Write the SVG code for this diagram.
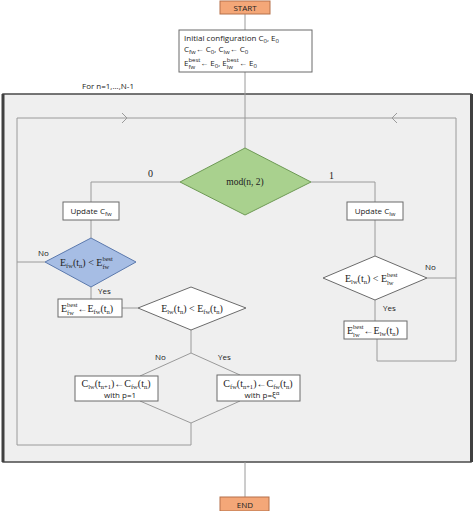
<svg xmlns="http://www.w3.org/2000/svg" width="474" height="511" viewBox="0 0 474 511">
<style>
.ln{fill:none;stroke:#9a9a9a;stroke-width:1}
.box{fill:#fff;stroke:#6b6b6b;stroke-width:1}
.term{fill:#f4a778;stroke:#b5714a;stroke-width:1}
.s{font-family:"Open Sans","Liberation Sans",sans-serif;font-size:8px;fill:#222}
.s .sb{font-size:6px}
.m{font-family:"Liberation Serif","DejaVu Serif",serif;font-size:10px;fill:#222}
.m .sb{font-size:6.5px}
</style>
<rect width="474" height="511" fill="#fff"/>
<g id="loop">
<rect x="3" y="94" width="468" height="368" fill="#efefef" stroke="#4a4a4a" stroke-width="1.5"/>
<line x1="3" y1="94" x2="3" y2="462" stroke="#404040" stroke-width="3"/>
<line x1="471.5" y1="94" x2="471.5" y2="462" stroke="#404040" stroke-width="3"/>
<text class="s" x="82" y="89">For n=1,...,N-1</text>
</g>
<g id="connectors">
<path class="ln" d="M245,14V30M245,72V148M180,182H91V202M311,182H375V202M91,220V238M45,262H17M91,287V299M122,308H138M191,330V353L140,376M191,353L240,375M140,401L191,423L240,401M191,423V445H17V118H456V361H377V339M375,220V256M375,300V321M427,278H456M245,462V497"/>
<path class="ln" d="M122,113L127,118L122,123M397,113L392,118L397,123"/>
</g>
<g id="start"><rect class="term" x="220" y="1" width="50" height="13"/><text class="s" x="245" y="11" text-anchor="middle">START</text></g>
<g id="init"><rect class="box" x="179" y="30" width="133" height="42"/>
<text class="s" x="184" y="41">Initial configuration C<tspan class="sb" dy="2">0</tspan><tspan dy="-2">, E</tspan><tspan class="sb" dy="2">0</tspan></text>
<text class="s" x="184" y="52">C<tspan class="sb" dy="2">fw</tspan><tspan dy="-2">← C</tspan><tspan class="sb" dy="2">0</tspan><tspan dy="-2">, C</tspan><tspan class="sb" dy="2">lw</tspan><tspan dy="-2">← C</tspan><tspan class="sb" dy="2">0</tspan></text>
<text class="s" x="184" y="66">E<tspan class="sb" dy="-4">best</tspan><tspan class="sb" dx="-12" dy="6.5">fw</tspan><tspan dx="5" dy="-2.5">← E</tspan><tspan class="sb" dy="2">0</tspan><tspan dy="-2">, E</tspan><tspan class="sb" dy="-4">best</tspan><tspan class="sb" dx="-12" dy="6.5">lw</tspan><tspan dx="6" dy="-2.5">← E</tspan><tspan class="sb" dy="2">0</tspan></text>
</g>
<g id="mod"><polygon points="245,148 311,182 245,215 180,182" fill="#a9d18e" stroke="#6e9a55"/>
<text class="m" x="245" y="185" text-anchor="middle" style="font-size:9.5px">mod(n, 2)</text>
<text class="m" x="148" y="177">0</text><text class="m" x="329" y="179">1</text></g>
<g id="updfw"><rect class="box" x="63" y="202" width="56" height="18"/><text class="s" x="91" y="214" text-anchor="middle">Update C<tspan class="sb" dy="2">fw</tspan></text></g>
<g id="bestfwtest"><polygon points="91,238 136,262 91,287 45,262" fill="#a6bde4" stroke="#5b79ad"/>
<text class="m" x="60" y="266">E<tspan class="sb" dy="2">fw</tspan><tspan dy="-2">(t</tspan><tspan class="sb" dy="2">n</tspan><tspan dy="-2">) &lt; E</tspan><tspan class="sb" dy="-5">best</tspan><tspan class="sb" dx="-10.5" dy="7.5">fw</tspan></text>
<text class="s" x="38" y="256">No</text><text class="s" x="98" y="294">Yes</text></g>
<g id="setbestfw"><rect class="box" x="58" y="299" width="64" height="18"/>
<text class="m" x="61" y="312">E<tspan class="sb" dy="-5">best</tspan><tspan class="sb" dx="-10.5" dy="7.5">fw</tspan><tspan dx="3.5" dy="-2.5">←E</tspan><tspan class="sb" dy="2">fw</tspan><tspan dy="-2">(t</tspan><tspan class="sb" dy="2">n</tspan><tspan dy="-2">)</tspan></text></g>
<g id="cmp"><polygon points="191,287 246,308 191,330 138,308" fill="#fff" stroke="#6b6b6b"/>
<text class="m" x="192" y="312" text-anchor="middle">E<tspan class="sb" dy="2">lw</tspan><tspan dy="-2">(t</tspan><tspan class="sb" dy="2">n</tspan><tspan dy="-2">) &lt; E</tspan><tspan class="sb" dy="2">fw</tspan><tspan dy="-2">(t</tspan><tspan class="sb" dy="2">n</tspan><tspan dy="-2">)</tspan></text>
<text class="s" x="155" y="360">No</text><text class="s" x="218" y="360">Yes</text></g>
<g id="nobox"><rect class="box" x="75" y="376" width="83" height="25"/>
<text class="m" x="116" y="387" text-anchor="middle">C<tspan class="sb" dy="2">lw</tspan><tspan dy="-2">(t</tspan><tspan class="sb" dy="2">n+1</tspan><tspan dy="-2">)←C</tspan><tspan class="sb" dy="2">fw</tspan><tspan dy="-2">(t</tspan><tspan class="sb" dy="2">n</tspan><tspan dy="-2">)</tspan></text>
<text class="s" x="120" y="398" text-anchor="middle">with p=1</text></g>
<g id="yesbox"><rect class="box" x="217" y="375" width="83" height="26"/>
<text class="m" x="258" y="387" text-anchor="middle">C<tspan class="sb" dy="2">fw</tspan><tspan dy="-2">(t</tspan><tspan class="sb" dy="2">n+1</tspan><tspan dy="-2">)←C</tspan><tspan class="sb" dy="2">fw</tspan><tspan dy="-2">(t</tspan><tspan class="sb" dy="2">n</tspan><tspan dy="-2">)</tspan></text>
<text class="s" x="262" y="398" text-anchor="middle">with p=ξ<tspan class="sb" dy="-3">α</tspan></text></g>
<g id="updlw"><rect class="box" x="347" y="202" width="56" height="18"/><text class="s" x="375" y="214" text-anchor="middle">Update C<tspan class="sb" dy="2">lw</tspan></text></g>
<g id="bestlwtest"><polygon points="375,256 427,278 375,300 323,278" fill="#fff" stroke="#6b6b6b"/>
<text class="m" x="345" y="282">E<tspan class="sb" dy="2">lw</tspan><tspan dy="-2">(t</tspan><tspan class="sb" dy="2">n</tspan><tspan dy="-2">) &lt; E</tspan><tspan class="sb" dy="-5">best</tspan><tspan class="sb" dx="-10.5" dy="7.5">lw</tspan></text>
<text class="s" x="425" y="270">No</text><text class="s" x="383" y="311">Yes</text></g>
<g id="setbestlw"><rect class="box" x="344" y="321" width="63" height="18"/>
<text class="m" x="347" y="334">E<tspan class="sb" dy="-5">best</tspan><tspan class="sb" dx="-10.5" dy="7.5">lw</tspan><tspan dx="4" dy="-2.5">←E</tspan><tspan class="sb" dy="2">lw</tspan><tspan dy="-2">(t</tspan><tspan class="sb" dy="2">n</tspan><tspan dy="-2">)</tspan></text></g>
<g id="end"><rect class="term" x="220" y="497" width="49" height="14"/><text class="s" x="245" y="508" text-anchor="middle">END</text></g>
</svg>
